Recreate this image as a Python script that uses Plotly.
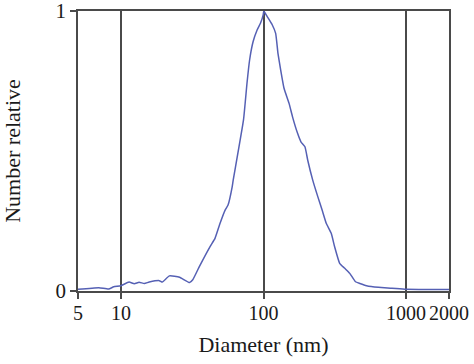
import plotly.graph_objects as go
import math

diameter_nm = [5.0, 7.0, 8.2, 8.9, 10.0, 11.4, 12.4, 13.4, 14.6, 15.8, 18.6, 19.5, 21.9, 25.8,
               30.3, 31.9, 35.7, 42.1, 45.7, 49.6, 53.8, 56.4, 60.3, 61.3, 72.4, 76.6, 79.9,
               84.5, 90.2, 95.2, 99.5, 100.5, 106.2, 115.3, 121.7, 126.3, 132.0, 139.3, 151.1,
               159.8, 173.4, 183.0, 195.3, 204.1, 221.4, 240.3, 257.7, 275.4, 298.6, 315.4,
               342.1, 371.3, 402.7, 441.6, 474, 528, 640, 796, 1000, 2000]
number_relative = [0.006, 0.012, 0.007, 0.015, 0.019, 0.032, 0.026, 0.031, 0.027, 0.032, 0.037,
                   0.032, 0.054, 0.049, 0.030, 0.040, 0.090, 0.158, 0.188, 0.242, 0.289, 0.307,
                   0.372, 0.396, 0.611, 0.742, 0.825, 0.890, 0.932, 0.956, 0.986, 1.0, 0.980,
                   0.950, 0.920, 0.849, 0.789, 0.724, 0.670, 0.622, 0.563, 0.533, 0.515, 0.468,
                   0.396, 0.337, 0.289, 0.242, 0.206, 0.158, 0.099, 0.081, 0.063, 0.033, 0.027,
                   0.019, 0.013, 0.010, 0.006, 0.005]

x_ticks = [5, 10, 100, 1000, 2000]
x_tick_labels = ["5", "10", "100", "1000", "2000"]
y_ticks = [0, 1]
y_tick_labels = ["0", "1"]

font_family = "Liberation Serif, Times New Roman, serif"
axis_color = "#4a4a4a"

fig = go.Figure()
fig.add_trace(go.Scatter(x=diameter_nm, y=number_relative, mode="lines",
                         line=dict(color="#5560b4", width=1.5, shape="spline", smoothing=0.4),
                         showlegend=False))

fig.update_layout(
    width=474, height=364,
    margin=dict(l=78, r=25, t=11, b=73),
    paper_bgcolor="white", plot_bgcolor="white",
    font=dict(family=font_family, size=21, color="#1a1a1a"),
    xaxis=dict(type="log", range=[math.log10(5), math.log10(2000)],
               tickvals=x_ticks, ticktext=x_tick_labels, automargin=False,
               tickangle=0, ticklabeloverflow="allow", tickfont=dict(size=20),
               ticklabelstandoff=-3,
               showgrid=True, gridcolor=axis_color, gridwidth=1.5,
               showline=True, linecolor=axis_color, linewidth=1.5, mirror=True,
               ticks="outside", ticklen=6, tickcolor=axis_color, tickwidth=1.5,
               zeroline=False,
               title=dict(text="Diameter (nm)", standoff=14, font=dict(size=22))),
    yaxis=dict(range=[0, 1], tickvals=y_ticks, ticktext=y_tick_labels, automargin=False,
               ticklabeloverflow="allow", tickfont=dict(size=21),
               showgrid=False,
               showline=True, linecolor=axis_color, linewidth=1.5, mirror=True,
               ticks="outside", ticklen=6, tickcolor=axis_color, tickwidth=1.5,
               zeroline=False,
               title=dict(text="Number relative", standoff=30, font=dict(size=22))),
)

fig.write_html("out.html", config={"displayModeBar": False},
               post_script="document.body.style.margin='0';document.body.style.padding='0';")
